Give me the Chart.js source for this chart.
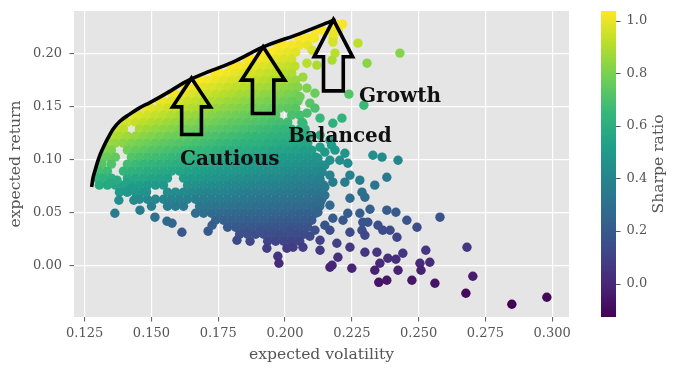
<!DOCTYPE html>
<html><head><meta charset="utf-8">
<script src="https://cdn.jsdelivr.net/npm/chart.js@4"></script>
<style>html,body{margin:0;padding:0;background:#fff;}canvas{display:block;}</style>
</head><body>
<canvas id="c" width="679" height="374" style="width:679px;height:374px"></canvas>
<script>
// ---------- data ----------
const xTicks = [0.125, 0.150, 0.175, 0.200, 0.225, 0.250, 0.275, 0.300];
const yTicks = [0.00, 0.05, 0.10, 0.15, 0.20];
const sharpeTicks = [0.0, 0.2, 0.4, 0.6, 0.8, 1.0];
const xRange = [0.1210, 0.3063];
const yRange = [-0.0485, 0.2400];
const sharpeRange = [-0.127, 1.037];

// dense cloud of random portfolios, one expected return per row
const rowReturn = [0.2276, 0.2210, 0.2144, 0.2078, 0.2012, 0.1946, 0.1880, 0.1814, 0.1748, 0.1682, 0.1616,
  0.1550, 0.1484, 0.1418, 0.1352, 0.1286, 0.1220, 0.1154, 0.1088, 0.1022, 0.0956, 0.0890, 0.0824, 0.0758,
  0.0692, 0.0625, 0.0559, 0.0493, 0.0427, 0.0361, 0.0295, 0.0229];
const rowVolatility = [
  [0.2190, 0.2215],
  [0.2115, 0.2145, 0.2175, 0.2200],
  [0.2050, 0.2080, 0.2110, 0.2180],
  [0.1972, 0.1995, 0.2025, 0.2055, 0.2085],
  [0.1910, 0.1920, 0.1950, 0.1980, 0.2010, 0.2040],
  [0.1857, 0.1875, 0.1905, 0.1935, 0.1965, 0.1995, 0.2025],
  [0.1800, 0.1830, 0.1860, 0.1890, 0.1920, 0.1950, 0.1980, 0.2010, 0.2037],
  [0.1735, 0.1755, 0.1785, 0.1815, 0.1845, 0.1875, 0.1905, 0.1935, 0.1965, 0.1995, 0.2025],
  [0.1680, 0.1710, 0.1740, 0.1770, 0.1800, 0.1830, 0.1860, 0.1890, 0.1920, 0.1950, 0.1980, 0.2010, 0.2040],
  [0.1626, 0.1635, 0.1665, 0.1695, 0.1725, 0.1755, 0.1785, 0.1815, 0.1845, 0.1875, 0.1905, 0.1935, 0.1965, 0.1995, 0.2025, 0.2048],
  [0.1577, 0.1590, 0.1620, 0.1650, 0.1680, 0.1710, 0.1740, 0.1770, 0.1800, 0.1830, 0.1860, 0.1890, 0.1920, 0.1950, 0.1980, 0.2010, 0.2040],
  [0.1530, 0.1545, 0.1575, 0.1605, 0.1635, 0.1665, 0.1695, 0.1725, 0.1755, 0.1785, 0.1815, 0.1845, 0.1875, 0.1905, 0.1935, 0.1965, 0.1995, 0.2025, 0.2048],
  [0.1478, 0.1500, 0.1530, 0.1560, 0.1590, 0.1620, 0.1650, 0.1680, 0.1710, 0.1740, 0.1770, 0.1800, 0.1830, 0.1860, 0.1890, 0.1920, 0.1950, 0.1980, 0.2010, 0.2040],
  [0.1435, 0.1455, 0.1485, 0.1515, 0.1545, 0.1575, 0.1605, 0.1635, 0.1665, 0.1695, 0.1725, 0.1755, 0.1785, 0.1815, 0.1845, 0.1875, 0.1905, 0.1935, 0.1965, 0.2025, 0.2055],
  [0.1396, 0.1410, 0.1440, 0.1470, 0.1500, 0.1530, 0.1560, 0.1590, 0.1620, 0.1650, 0.1680, 0.1710, 0.1740, 0.1770, 0.1800, 0.1830, 0.1860, 0.1890, 0.1920, 0.1950, 0.1980, 0.2010, 0.2063],
  [0.1372, 0.1395, 0.1455, 0.1485, 0.1515, 0.1545, 0.1575, 0.1605, 0.1635, 0.1665, 0.1695, 0.1725, 0.1755, 0.1785, 0.1815, 0.1845, 0.1875, 0.1905, 0.1935, 0.1965, 0.1995, 0.2025, 0.2055, 0.2075],
  [0.1356, 0.1380, 0.1410, 0.1440, 0.1470, 0.1500, 0.1530, 0.1560, 0.1590, 0.1620, 0.1650, 0.1680, 0.1710, 0.1740, 0.1770, 0.1800, 0.1830, 0.1860, 0.1890, 0.1920, 0.1950, 0.1980, 0.2010, 0.2040, 0.2070, 0.2086],
  [0.1342, 0.1365, 0.1395, 0.1425, 0.1455, 0.1485, 0.1515, 0.1545, 0.1575, 0.1605, 0.1635, 0.1665, 0.1695, 0.1725, 0.1755, 0.1785, 0.1815, 0.1845, 0.1875, 0.1905, 0.1935, 0.1965, 0.1995, 0.2025, 0.2055, 0.2085],
  [0.1330, 0.1350, 0.1410, 0.1440, 0.1470, 0.1500, 0.1530, 0.1560, 0.1590, 0.1620, 0.1650, 0.1680, 0.1710, 0.1740, 0.1770, 0.1800, 0.1830, 0.1860, 0.1890, 0.1920, 0.1950, 0.1980, 0.2010, 0.2040, 0.2070, 0.2100],
  [0.1318, 0.1335, 0.1365, 0.1425, 0.1455, 0.1485, 0.1515, 0.1545, 0.1575, 0.1605, 0.1635, 0.1665, 0.1695, 0.1725, 0.1755, 0.1785, 0.1815, 0.1845, 0.1875, 0.1905, 0.1935, 0.1965, 0.1995, 0.2025, 0.2055, 0.2085, 0.2115],
  [0.1315, 0.1350, 0.1410, 0.1440, 0.1470, 0.1500, 0.1530, 0.1560, 0.1590, 0.1620, 0.1650, 0.1680, 0.1710, 0.1740, 0.1770, 0.1800, 0.1830, 0.1860, 0.1890, 0.1920, 0.1950, 0.1980, 0.2010, 0.2040, 0.2070, 0.2100, 0.2130],
  [0.1305, 0.1335, 0.1395, 0.1425, 0.1455, 0.1485, 0.1515, 0.1545, 0.1575, 0.1605, 0.1635, 0.1665, 0.1695, 0.1725, 0.1755, 0.1785, 0.1815, 0.1845, 0.1875, 0.1905, 0.1935, 0.1965, 0.1995, 0.2025, 0.2055, 0.2085, 0.2115, 0.2138],
  [0.1295, 0.1320, 0.1350, 0.1410, 0.1440, 0.1470, 0.1500, 0.1530, 0.1560, 0.1620, 0.1650, 0.1680, 0.1710, 0.1740, 0.1770, 0.1800, 0.1830, 0.1860, 0.1890, 0.1920, 0.1950, 0.1980, 0.2010, 0.2040, 0.2070, 0.2100, 0.2130],
  [0.1305, 0.1335, 0.1365, 0.1395, 0.1425, 0.1455, 0.1485, 0.1515, 0.1545, 0.1635, 0.1665, 0.1695, 0.1725, 0.1755, 0.1785, 0.1815, 0.1845, 0.1875, 0.1905, 0.1935, 0.1965, 0.1995, 0.2025, 0.2055, 0.2085, 0.2115, 0.2145],
  [0.1380, 0.1410, 0.1440, 0.1470, 0.1560, 0.1590, 0.1620, 0.1650, 0.1680, 0.1710, 0.1740, 0.1770, 0.1800, 0.1830, 0.1860, 0.1890, 0.1920, 0.1950, 0.1980, 0.2010, 0.2040, 0.2070, 0.2100, 0.2130],
  [0.1455, 0.1485, 0.1515, 0.1545, 0.1575, 0.1605, 0.1635, 0.1665, 0.1695, 0.1725, 0.1755, 0.1785, 0.1815, 0.1845, 0.1875, 0.1905, 0.1935, 0.1965, 0.1995, 0.2025, 0.2055, 0.2085, 0.2115, 0.2138],
  [0.1500, 0.1560, 0.1590, 0.1620, 0.1680, 0.1710, 0.1740, 0.1770, 0.1800, 0.1830, 0.1860, 0.1890, 0.1920, 0.1950, 0.1980, 0.2010, 0.2040, 0.2070, 0.2100, 0.2130],
  [0.1665, 0.1695, 0.1725, 0.1755, 0.1785, 0.1815, 0.1845, 0.1875, 0.1905, 0.1935, 0.1965, 0.1995, 0.2025, 0.2055, 0.2085, 0.2115],
  [0.1740, 0.1770, 0.1800, 0.1830, 0.1860, 0.1890, 0.1920, 0.1950, 0.1980, 0.2010, 0.2040, 0.2070, 0.2100],
  [0.1785, 0.1815, 0.1845, 0.1875, 0.1905, 0.1935, 0.1965, 0.1995, 0.2025, 0.2055, 0.2085],
  [0.1830, 0.1860, 0.1890, 0.1920, 0.1950, 0.1980, 0.2010, 0.2040, 0.2070],
  [0.1935, 0.1965, 0.1995, 0.2025, 0.2055]
];

// scattered portfolios around the dense cloud
const looseVolatility = [
  0.2104, 0.2101, 0.2179, 0.2179, 0.2273, 0.2430, 0.2307, 0.2187, 0.2176, 0.2082, 0.2119, 0.2067, 0.2082, 0.2112,
  0.2093, 0.2056, 0.2239, 0.2295, 0.2213, 0.2179, 0.2112, 0.2082, 0.2067, 0.2131, 0.2131, 0.2168,
  0.2174, 0.2224, 0.2235, 0.2329, 0.2363, 0.2423, 0.2168, 0.2131, 0.2149, 0.2187, 0.2123, 0.2205, 0.2149, 0.2138,
  0.2168, 0.2131, 0.2149, 0.2131, 0.2168, 0.2123, 0.2149, 0.2112, 0.2168,
  0.2243, 0.2280, 0.2336, 0.2381, 0.2179, 0.2149, 0.2224, 0.2288, 0.2299, 0.2243, 0.2318, 0.2381, 0.2415, 0.2580,
  0.2235, 0.2217, 0.2179, 0.2280, 0.2291, 0.2310, 0.2348, 0.2366, 0.2393, 0.2419, 0.2456, 0.2494, 0.2243, 0.2288,
  0.2299, 0.2194, 0.2131,
  0.2243, 0.2299, 0.2344, 0.2441, 0.2527, 0.2681, 0.2198, 0.2355, 0.2385, 0.2415, 0.2505, 0.2542, 0.2176, 0.2250,
  0.2336, 0.2423, 0.2509, 0.2351, 0.2381, 0.2475, 0.2561, 0.2703, 0.2677, 0.2849, 0.2980,
  0.2067, 0.2131, 0.2030, 0.2007, 0.1932, 0.1973, 0.1977, 0.2168, 0.1820, 0.1869, 0.1858, 0.1712, 0.1727, 0.1614,
  0.1577, 0.1558, 0.1513, 0.1457, 0.1363, 0.1378, 0.1434, 0.1906, 0.1951, 0.2018, 0.2093,
  0.1371, 0.1408, 0.1423, 0.1482, 0.1408, 0.1345
];
const looseReturn = [
  0.2154, 0.2031, 0.2107, 0.2192, 0.2097, 0.2003, 0.1908, 0.2003, 0.1937, 0.1908, 0.1890, 0.1777, 0.1673, 0.1625,
  0.1531, 0.1591, 0.1616, 0.1512, 0.1390, 0.1342, 0.1484, 0.1437, 0.1342, 0.1390, 0.1229, 0.1182,
  0.1135, 0.1059, 0.0965, 0.1040, 0.1022, 0.0993, 0.0993, 0.1116, 0.1069, 0.1088, 0.1012, 0.0993, 0.0946, 0.0880,
  0.0852, 0.0805, 0.0663, 0.0588, 0.0569, 0.0503, 0.0380, 0.0333, 0.0333,
  0.0852, 0.0805, 0.0758, 0.0833, 0.0786, 0.0739, 0.0786, 0.0692, 0.0644, 0.0635, 0.0531, 0.0522, 0.0503, 0.0456,
  0.0493, 0.0427, 0.0446, 0.0493, 0.0408, 0.0408, 0.0380, 0.0333, 0.0333, 0.0267, 0.0427, 0.0361, 0.0314, 0.0333,
  0.0286, 0.0210, 0.0239,
  0.0173, 0.0125, 0.0125, 0.0116, 0.0144, 0.0173, 0.0078, 0.0022, 0.0069, 0.0059, 0.0022, 0.0031, 0.0003, -0.0025,
  -0.0044, -0.0044, -0.0044, -0.0158, -0.0139, -0.0139, -0.0167, -0.0101, -0.0261, -0.0365, -0.0299,
  0.0173, 0.0144, 0.0173, 0.0163, 0.0163, 0.0088, 0.0022, -0.0016, 0.0239, 0.0229, 0.0305, 0.0324, 0.0380, 0.0314,
  0.0399, 0.0418, 0.0456, 0.0522, 0.0493, 0.0616, 0.0616, 0.0314, 0.0305, 0.0314, 0.0276,
  0.0805, 0.0776, 0.0729, 0.0694, 0.0694, 0.0776
];

// efficient frontier
const frontierVolatility = [0.1277, 0.1281, 0.1289, 0.1298, 0.1307, 0.1322, 0.1337, 0.1356, 0.1382, 0.1416,
  0.1457, 0.1494, 0.1551, 0.1633, 0.1719, 0.1805, 0.1917, 0.2056, 0.2183];
const frontierReturn = [0.0758, 0.0824, 0.0899, 0.0975, 0.1041, 0.1126, 0.1201, 0.1286, 0.1361, 0.1423,
  0.1489, 0.1536, 0.1616, 0.1739, 0.1833, 0.1918, 0.2059, 0.2187, 0.2314];

// arrows (data units)
const arrowVolatility = [0.1650, 0.1918, 0.2181];
const arrowTipReturn = [0.1767, 0.2062, 0.2319];
const arrowHeadReturn = [0.1496, 0.1748, 0.1968];
const arrowTailReturn = [0.1236, 0.1434, 0.1647];
const arrowHeadHalf = [0.0071, 0.0081, 0.0072];
const arrowShaftHalf = [0.0037, 0.0040, 0.0037];

// text labels (left / baseline, data units)
const labelText = ['Cautious', 'Balanced', 'Growth'];
const labelVolatility = [0.1607, 0.2011, 0.2277];
const labelReturn = [0.0946, 0.1166, 0.1543];

// ---------- colour map ----------
const viridisStops = ['#440154','#482878','#3e4989','#31688e','#26828e','#1f9e89','#35b779','#6ece58','#b5de2b','#fde725'];
const stopRGB = viridisStops.map(h => [parseInt(h.slice(1,3),16), parseInt(h.slice(3,5),16), parseInt(h.slice(5,7),16)]);
function viridis(t) {
  t = Math.max(0, Math.min(1, t));
  const p = t * (stopRGB.length - 1);
  const i = Math.min(Math.floor(p), stopRGB.length - 2);
  const f = p - i;
  const a = stopRGB[i], b = stopRGB[i + 1];
  return 'rgb(' + [0,1,2].map(k => Math.round(a[k] + (b[k] - a[k]) * f)).join(',') + ')';
}
function sharpeColor(s) { return viridis((s - sharpeRange[0]) / (sharpeRange[1] - sharpeRange[0])); }

// ---------- build datasets ----------
const points = [];
rowReturn.forEach((r, i) => rowVolatility[i].forEach(v => points.push({x: v, y: r})));
looseVolatility.forEach((v, i) => points.push({x: v, y: looseReturn[i]}));
const pointColors = points.map(p => sharpeColor(p.y / p.x));
const frontier = frontierVolatility.map((v, i) => ({x: v, y: frontierReturn[i]}));

const SERIF = "'DejaVu Serif', serif";
Chart.defaults.font.family = SERIF;
Chart.defaults.font.size = 13;
Chart.defaults.color = '#555';

const decor = {
  id: 'decor',
  beforeDraw(chart) {
    const {ctx, chartArea: a} = chart;
    ctx.save();
    ctx.fillStyle = '#ffffff';
    ctx.fillRect(0, 0, chart.width, chart.height);
    ctx.fillStyle = '#E5E5E5';
    ctx.fillRect(a.left, a.top, a.right - a.left, a.bottom - a.top);
    ctx.restore();
  },
  afterDatasetsDraw(chart) {
    const {ctx, scales: {x, y}} = chart;
    ctx.save();
    ctx.strokeStyle = '#000';
    ctx.lineWidth = 3.6;
    ctx.lineJoin = 'miter';
    ctx.miterLimit = 10;
    arrowVolatility.forEach((v, i) => {
      const pts = [
        [v, arrowTipReturn[i]],
        [v + arrowHeadHalf[i], arrowHeadReturn[i]],
        [v + arrowShaftHalf[i], arrowHeadReturn[i]],
        [v + arrowShaftHalf[i], arrowTailReturn[i]],
        [v - arrowShaftHalf[i], arrowTailReturn[i]],
        [v - arrowShaftHalf[i], arrowHeadReturn[i]],
        [v - arrowHeadHalf[i], arrowHeadReturn[i]]
      ];
      ctx.beginPath();
      pts.forEach((p, k) => {
        const px = x.getPixelForValue(p[0]), py = y.getPixelForValue(p[1]);
        if (k === 0) ctx.moveTo(px, py); else ctx.lineTo(px, py);
      });
      ctx.closePath();
      ctx.stroke();
    });
    ctx.font = "bold 20px " + SERIF;
    ctx.fillStyle = '#111';
    ctx.textAlign = 'left';
    ctx.textBaseline = 'alphabetic';
    labelText.forEach((t, i) => {
      ctx.fillText(t, x.getPixelForValue(labelVolatility[i]), y.getPixelForValue(labelReturn[i]));
    });
    ctx.restore();
  },
  afterDraw(chart) {
    const {ctx, chartArea: a} = chart;
    const cb = chart.scales.cb;
    const left = a.right + 32, w = 15;
    ctx.save();
    for (let py = Math.floor(cb.top); py < Math.ceil(cb.bottom); py++) {
      ctx.fillStyle = sharpeColor(cb.getValueForPixel(py + 0.5));
      ctx.fillRect(left, py, w, 1);
    }
    ctx.strokeStyle = '#555';
    ctx.lineWidth = 1;
    sharpeTicks.forEach(v => {
      const py = Math.round(cb.getPixelForValue(v)) + 0.5;
      ctx.beginPath();
      ctx.moveTo(left + w, py);
      ctx.lineTo(left + w + 4.5, py);
      ctx.stroke();
    });
    ctx.translate(cb.right - 20, (cb.top + cb.bottom) / 2);
    ctx.rotate(-Math.PI / 2);
    ctx.font = "15.6px " + SERIF;
    ctx.fillStyle = '#555';
    ctx.textAlign = 'center';
    ctx.textBaseline = 'middle';
    ctx.fillText('Sharpe ratio', 0, 0);
    ctx.restore();
  }
};

const gridCommon = {color: '#ffffff', lineWidth: 1.2, drawTicks: true, tickLength: 4.5, tickColor: '#555', tickWidth: 1};

new Chart(document.getElementById('c'), {
  type: 'scatter',
  data: {
    datasets: [
      {
        label: 'frontier', data: frontier, showLine: true, borderColor: '#000', borderWidth: 3.6,
        pointRadius: 0, pointHoverRadius: 0, fill: false, cubicInterpolationMode: 'monotone',
        borderCapStyle: 'square', order: 1
      },
      {
        label: 'portfolios', data: points, pointRadius: 4.7, pointHoverRadius: 4.7,
        pointBackgroundColor: pointColors, pointBorderWidth: 0, pointBorderColor: 'rgba(0,0,0,0)',
        order: 2
      }
    ]
  },
  options: {
    responsive: false, animation: false, devicePixelRatio: 1,
    layout: {padding: {top: 11, left: 0, right: 0, bottom: 0}},
    plugins: {legend: {display: false}, tooltip: {enabled: false}},
    scales: {
      x: {
        type: 'linear', position: 'bottom', min: xRange[0], max: xRange[1],
        afterBuildTicks: s => { s.ticks = xTicks.map(v => ({value: v})); },
        afterFit: s => { s.height = 57; s.paddingLeft = 0; s.paddingRight = 0; },
        ticks: {callback: v => Number(v).toFixed(3), padding: 4, color: '#555', font: {size: 13}, maxRotation: 0, autoSkip: false},
        grid: gridCommon, border: {display: false},
        title: {display: true, text: 'expected volatility', color: '#555', font: {size: 15.6}, padding: {top: 0, bottom: 10}}
      },
      y: {
        type: 'linear', position: 'left', min: yRange[0], max: yRange[1],
        afterBuildTicks: s => { s.ticks = yTicks.map(v => ({value: v})); },
        afterFit: s => { s.width = 74; s.paddingTop = 0; s.paddingBottom = 0; },
        ticks: {callback: v => Number(v).toFixed(2), padding: 7.5, color: '#555', font: {size: 13}, autoSkip: false},
        grid: gridCommon, border: {display: false},
        title: {display: true, text: 'expected return', color: '#555', font: {size: 15.6}, padding: {top: 6.6, bottom: 0}}
      },
      cb: {
        type: 'linear', position: 'right', min: sharpeRange[0], max: sharpeRange[1],
        afterBuildTicks: s => { s.ticks = sharpeTicks.map(v => ({value: v})); },
        afterFit: s => { s.width = 110; s.paddingTop = 0; s.paddingBottom = 0; },
        ticks: {callback: v => Number(v).toFixed(1), padding: 57.5, color: '#555', font: {size: 13}, autoSkip: false},
        grid: {display: false, drawTicks: false, drawOnChartArea: false},
        border: {display: false}
      }
    }
  },
  plugins: [decor]
});
</script>
</body></html>
